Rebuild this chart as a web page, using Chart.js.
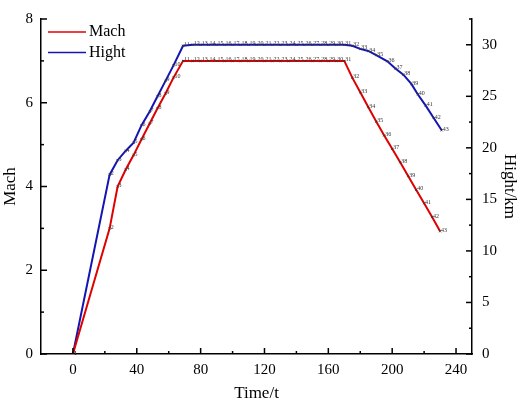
<!DOCTYPE html>
<html>
<head>
<meta charset="utf-8">
<script src="https://cdn.jsdelivr.net/npm/chart.js@4/dist/chart.umd.min.js"></script>
<style>
	html, body { margin: 0; padding: 0; background: #fff; }
	canvas { display: block; }
</style>
</head>
<body>
<canvas id="graph" width="520" height="407"></canvas>
<script>
"use strict";

// mach series (left axis)
const mach_time = [0, 23, 28, 33, 38, 43, 48, 53, 58, 63, 69,
	75, 80, 85, 90, 95, 100, 105, 110, 115, 120, 125, 130, 135, 140, 145, 150, 155, 160, 165, 170,
	175, 180, 185, 190, 195, 200, 205, 210, 215, 220, 225, 230]
const mach_values = [0, 3.0, 4.0, 4.4, 4.75, 5.13, 5.5, 5.87, 6.22, 6.6, 7.0,
	7, 7, 7, 7, 7, 7, 7, 7, 7, 7, 7, 7, 7, 7, 7, 7, 7, 7, 7, 7.0,
	6.6, 6.25, 5.9, 5.55, 5.22, 4.9, 4.58, 4.25, 3.92, 3.6, 3.27, 2.93]

// height series (right axis, km)
const hight_time = [0, 23, 28, 33, 38, 43, 48, 53, 58, 63, 69,
	75, 80, 85, 90, 95, 100, 105, 110, 115, 120, 125, 130, 135, 140, 145, 150, 155, 160, 165, 170,
	175, 180, 185, 190, 197, 202, 207, 212, 216, 221, 226, 231]
const hight_values = [0, 17.4, 18.8, 19.7, 20.5, 22.2, 23.5, 25.0, 26.5, 28.0, 29.9,
	30, 30, 30, 30, 30, 30, 30, 30, 30, 30, 30, 30, 30, 30, 30, 30, 30, 30, 30, 30,
	29.9, 29.6, 29.4, 29.0, 28.4, 27.7, 27.1, 26.2, 25.2, 24.1, 22.9, 21.7]

// ticks
const time_ticks = [0, 40, 80, 120, 160, 200, 240]
const time_minor = [20, 60, 100, 140, 180, 220]
const mach_ticks = [0, 2, 4, 6, 8]
const mach_minor = [1, 3, 5, 7]
const hight_ticks = [0, 5, 10, 15, 20, 25, 30]
const hight_minor = [2.5, 7.5, 12.5, 17.5, 22.5, 27.5, 32.5]

const series_names = ["Mach", "Hight"]
const series_colors = ["#e00000", "#1414b4"]

const FONT = "'Liberation Serif', 'Times New Roman', serif"

const to_points = (xs, ys) => xs.map((x, i) => ({x: x, y: ys[i]}))

// inward tick marks
const inward_ticks = {
	id: "inward_ticks",
	afterDraw(chart) {
		const ctx = chart.ctx
		const {x, y, y1} = chart.scales
		ctx.save()
		ctx.strokeStyle = "#000"
		ctx.lineWidth = 1.5
		const draw = (scale, vals, len, dir) => {
			vals.forEach(v => {
				const p = scale.getPixelForValue(v)
				ctx.beginPath()
				if (dir === "x") {
					ctx.moveTo(p, scale.top)
					ctx.lineTo(p, scale.top - len)
				} else if (dir === "l") {
					ctx.moveTo(scale.right, p)
					ctx.lineTo(scale.right + len, p)
				} else {
					ctx.moveTo(scale.left, p)
					ctx.lineTo(scale.left - len, p)
				}
				ctx.stroke()
			})
		}
		draw(x, time_ticks, 6, "x")
		draw(x, time_minor, 3, "x")
		draw(y, mach_ticks, 6, "l")
		draw(y, mach_minor, 3, "l")
		draw(y1, hight_ticks, 6, "r")
		draw(y1, hight_minor, 3, "r")
		ctx.restore()
	}
}

// small index labels next to each point
const point_labels = {
	id: "point_labels",
	afterDatasetsDraw(chart) {
		const ctx = chart.ctx
		ctx.save()
		ctx.font = "6px " + FONT
		ctx.fillStyle = "#333"
		ctx.textBaseline = "middle"
		chart.data.datasets.forEach((ds, di) => {
			chart.getDatasetMeta(di).data.forEach((pt, i) => {
				ctx.fillText(String(i + 1), pt.x + 1, pt.y - 1)
			})
		})
		ctx.restore()
	}
}

// legend inside plot, top left
const inner_legend = {
	id: "inner_legend",
	afterDraw(chart) {
		const ctx = chart.ctx
		const area = chart.chartArea
		ctx.save()
		ctx.font = "16px " + FONT
		ctx.textBaseline = "middle"
		series_names.forEach((name, i) => {
			const yy = area.top + 13 + i * 20.5
			ctx.strokeStyle = series_colors[i]
			ctx.lineWidth = 1.5
			ctx.beginPath()
			ctx.moveTo(area.left + 7, yy)
			ctx.lineTo(area.left + 45, yy)
			ctx.stroke()
			ctx.fillStyle = "#000"
			ctx.fillText(name, area.left + 48, yy)
		})
		ctx.restore()
	}
}

const set_ticks = (vals) => (scale) => { scale.ticks = vals.map(v => ({value: v})) }

const chart = new Chart(document.getElementById("graph"), {
	type: "line",
	data: {
		datasets: [{
			label: series_names[0],
			data: to_points(mach_time, mach_values),
			yAxisID: "y",
			borderColor: series_colors[0],
			borderWidth: 2,
			pointStyle: "crossRot",
			pointRadius: 1.5,
			pointBorderColor: "#333",
			pointBorderWidth: 0.8,
			tension: 0,
		}, {
			label: series_names[1],
			data: to_points(hight_time, hight_values),
			yAxisID: "y1",
			borderColor: series_colors[1],
			borderWidth: 2,
			pointStyle: "crossRot",
			pointRadius: 1.5,
			pointBorderColor: "#333",
			pointBorderWidth: 0.8,
			tension: 0,
		}],
	},
	options: {
		responsive: false,
		animation: false,
		layout: { padding: { top: 7, left: 0, right: 0, bottom: 0 } },
		plugins: {
			legend: { display: false },
			tooltip: { enabled: false },
		},
		scales: {
			x: {
				type: "linear",
				min: -20,
				max: 250,
				afterBuildTicks: set_ticks(time_ticks),
				afterFit: (s) => { s.height = 53 },
				grid: { drawOnChartArea: false, drawTicks: false },
				border: { color: "#000", width: 1.5 },
				ticks: { color: "#000", padding: 7, font: { family: FONT, size: 15 } },
				title: { display: true, text: "Time/t", color: "#000", padding: { top: 0, bottom: 3 }, font: { family: FONT, size: 17 } },
			},
			y: {
				position: "left",
				min: 0,
				max: 8,
				afterBuildTicks: set_ticks(mach_ticks),
				afterFit: (s) => { s.width = 41 },
				grid: { drawOnChartArea: false, drawTicks: false },
				border: { color: "#000", width: 1.5 },
				ticks: { color: "#000", padding: 8, font: { family: FONT, size: 15 } },
				title: { display: true, text: "Mach", color: "#000", padding: { top: 0, bottom: 0 }, font: { family: FONT, size: 17 } },
			},
			y1: {
				position: "right",
				min: 0,
				max: 32.5,
				afterBuildTicks: set_ticks(hight_ticks),
				afterFit: (s) => { s.width = 48 },
				grid: { drawOnChartArea: false, drawTicks: false },
				border: { color: "#000", width: 1.5 },
				ticks: { color: "#000", padding: 10, font: { family: FONT, size: 15 } },
				title: { display: true, text: "Hight/km", color: "#000", padding: { top: 0, bottom: 2 }, font: { family: FONT, size: 17 } },
			},
		},
	},
	plugins: [inward_ticks, point_labels, inner_legend],
})
</script>
</body>
</html>
